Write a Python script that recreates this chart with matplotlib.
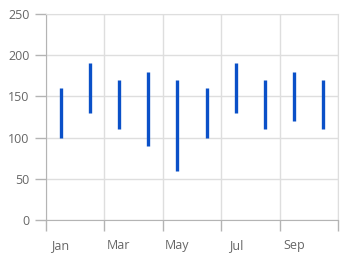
import matplotlib
matplotlib.use('Agg')
import matplotlib.pyplot as plt

months = ['Jan', 'Feb', 'Mar', 'Apr', 'May', 'Jun', 'Jul', 'Aug', 'Sep', 'Oct']
low = [100, 130, 110, 90, 60, 100, 130, 110, 120, 110]
high = [160, 190, 170, 180, 170, 160, 190, 170, 180, 170]
y_ticks = [0, 50, 100, 150, 200, 250]

plt.rcParams['font.family'] = ['Open Sans', 'DejaVu Sans']

fig = plt.figure(figsize=(3.58, 2.64), dpi=100)
ax = fig.add_axes([46 / 358, 44 / 264, 292 / 358, 206 / 264])

x = list(range(len(months)))
ax.vlines(x, low, high, color='#0a50c8', linewidth=2.4, zorder=3)

ax.set_xlim(-0.5, len(months) - 0.5)
ax.set_ylim(0, 250)

# boundaries every two categories get grid lines and tick marks
ax.set_xticks([i - 0.5 for i in range(0, len(months) + 1, 2)])
ax.set_xticklabels([])
ax.set_xticks(x[::2], minor=True)
ax.set_xticklabels(months[::2], minor=True)
ax.tick_params(axis='x', which='major', length=8, width=1, color='#b4b4b4')
ax.tick_params(axis='x', which='minor', length=0, pad=14, labelsize=9, labelcolor='#666666')

ax.set_yticks(y_ticks)
ax.tick_params(axis='y', length=8, width=1, color='#b4b4b4', pad=4, labelsize=9, labelcolor='#666666')

ax.grid(True, which='major', color='#dedede', linewidth=1, zorder=0)
for side in ['left', 'bottom']:
    ax.spines[side].set_color('#b4b4b4')
for side in ['top', 'right']:
    ax.spines[side].set_color('#dedede')

fig.savefig('out.png', dpi=100)
